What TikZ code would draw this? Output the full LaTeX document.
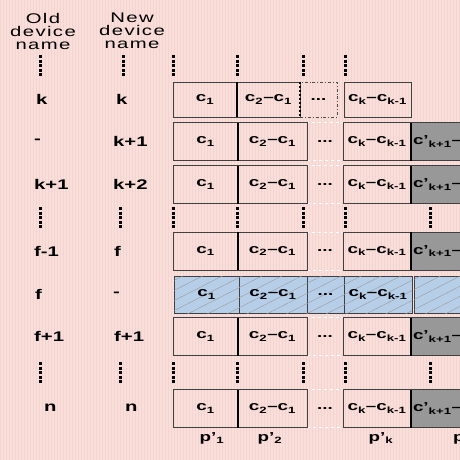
\documentclass[tikz,border=0pt]{standalone}
\usepackage{fontspec}
\setmainfont{Liberation Sans}[FakeStretch=1.45]
\newfontfamily\hdrfont{Liberation Sans}[FakeStretch=1.45,LetterSpace=10]
\usetikzlibrary{positioning,patterns.meta}
\definecolor{bgpink}{RGB}{249,222,218}
\definecolor{bgstripe}{RGB}{244,212,208}
\definecolor{cellgray}{RGB}{152,152,152}
\definecolor{rmblue}{RGB}{183,206,232}
\tikzset{
  cell/.style={draw=black!75, line width=.8pt, minimum height=38pt, inner sep=0pt,
    outer sep=0pt, font=\fontsize{13}{13}\selectfont\bfseries},
  gapcell/.style={cell, draw=white, dashed, minimum width=36pt},
  graycell/.style={cell, fill=cellgray, minimum width=70pt, text width=66pt, align=left},
  rmcell/.style={cell, fill=rmblue, postaction={pattern={Lines[angle=27,distance=9pt,line width=.4pt]},
    pattern color=black!40}},
  devname/.style={anchor=west, inner sep=0pt, font=\fontsize{14}{14}\selectfont\bfseries},
  hdr/.style={align=center, inner sep=0pt, font=\hdrfont\fontsize{14}{13}\selectfont},
  plabel/.style={inner sep=0pt, font=\fontsize{13}{13}\selectfont\bfseries},
  vdots/.style={line width=3pt, dash pattern=on 3pt off 1.6pt},
  sep/.style={line width=2pt, black},
}
\begin{document}
\begin{tikzpicture}[x=1pt,y=-1pt]
\useasboundingbox (0,0) rectangle (460,460);
\clip (0,0) rectangle (460,460);
\fill[bgpink] (0,0) rectangle (460,460);
\fill[pattern={Lines[angle=90,distance=3pt,line width=1pt]}, pattern color=bgstripe] (0,0) rectangle (460,460);

% column heads
\node[hdr] (oldhd) at (43,31) {Old\\device\\name};
\node[hdr] (newhd) at (132,31) {New\\device\\name};

% first row, no parity cell
\node[cell, minimum width=64pt, minimum height=35pt, anchor=west] (c1-1) at (173,99.5) {c\textsubscript{1}};
\node[cell, minimum width=63pt, minimum height=35pt, right=0pt of c1-1] (c2-1) {c\textsubscript{2}–c\textsubscript{1}};
\node[cell, draw=black!70, dash dot, line width=.5pt, minimum width=37pt, minimum height=35pt,
  right=0pt of c2-1] (gap-1) {...};
\node[cell, minimum width=67pt, minimum height=35pt, anchor=west] (ck-1) at (344,99.5) {c\textsubscript{k}–c\textsubscript{k-1}};
\draw[sep] (c2-1.north west) -- (c2-1.south west);
\draw[line width=2pt, dotted] (c2-1.north east) -- (c2-1.south east);

% ordinary rows
\foreach \r/\y in {2/141.5, 3/184.5, 4/251, 6/336.5, 7/408.5} {
  \node[gapcell, anchor=west] (gap-\r) at (307,\y) {...};
  \node[cell, minimum width=65pt, anchor=west] (c1-\r) at (173,\y) {c\textsubscript{1}};
  \node[cell, minimum width=69pt, right=0pt of c1-\r] (c2-\r) {c\textsubscript{2}–c\textsubscript{1}};
  \node[cell, minimum width=68pt, anchor=west] (ck-\r) at (343,\y) {c\textsubscript{k}–c\textsubscript{k-1}};
  \node[graycell, right=0pt of ck-\r] (cn-\r) {c’\textsubscript{k+1}–};
  \draw[sep] (c2-\r.north west) -- (c2-\r.south west);
  \draw[sep] (cn-\r.north west) -- (cn-\r.south west);
}

% removed device row
\node[rmcell, minimum width=65pt, minimum height=37pt, anchor=west] (c1-5) at (174,294.5) {c\textsubscript{1}};
\node[rmcell, minimum width=68pt, minimum height=37pt, right=0pt of c1-5] (c2-5) {c\textsubscript{2}–c\textsubscript{1}};
\node[rmcell, minimum width=37pt, minimum height=37pt, right=0pt of c2-5] (gap-5) {...};
\node[rmcell, minimum width=68pt, minimum height=37pt, right=0pt of gap-5] (ck-5) {c\textsubscript{k}–c\textsubscript{k-1}};
\node[rmcell, minimum width=70pt, minimum height=37pt, right=2pt of ck-5] (cn-5) {};

% device names
\node[devname] (o1) at (36,99) {k};      \node[devname] (n1) at (116,99) {k};
\node[devname] (o2) at (34,141.5) {-};   \node[devname] (n2) at (113,141.5) {k+1};
\node[devname] (o3) at (34,184.5) {k+1}; \node[devname] (n3) at (113,184.5) {k+2};
\node[devname] (o4) at (34,251) {f-1};   \node[devname] (n4) at (114,251) {f};
\node[devname] (o5) at (35,294) {f};     \node[devname] (n5) at (113,294) {-};
\node[devname] (o6) at (34,336.5) {f+1}; \node[devname] (n6) at (114,336.5) {f+1};
\node[devname] (o7) at (44,408) {n};     \node[devname] (n7) at (125,408) {n};

% vertical ellipses
\foreach \x in {40,123,173,237,303,345}
  \draw[vdots] (\x,55) -- (\x,77);
\foreach \x in {40,120,173,237,303,345,430} {
  \draw[vdots] (\x,207) -- (\x,228);
  \draw[vdots] (\x,362) -- (\x,383);
}

% parity labels
\node[plabel] (p1) at (212,438) {p’\textsubscript{1}};
\node[plabel] (p2) at (270,438) {p’\textsubscript{2}};
\node[plabel] (pk) at (381,438) {p’\textsubscript{k}};
\node[plabel, anchor=west] (pn) at (453,438) {p’\textsubscript{k+1}};
\end{tikzpicture}
\end{document}
